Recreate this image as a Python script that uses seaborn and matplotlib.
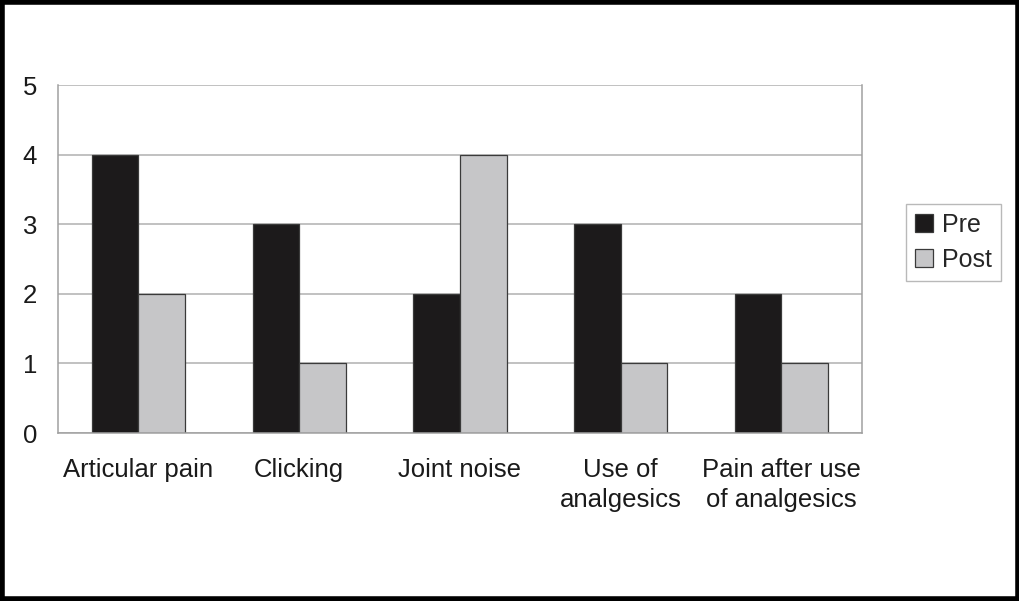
import pandas as pd
import numpy as np
import matplotlib.pyplot as plt
import seaborn as sns
from matplotlib.patches import Rectangle
from matplotlib.ticker import FixedLocator

# =========================
# DATA
# =========================

categories = [
    "Articular pain",
    "Clicking",
    "Joint noise",
    "Use of\nanalgesics",
    "Pain after use\nof analgesics"
]

pre_values = [4, 3, 2, 3, 2]
post_values = [2, 1, 4, 1, 1]

series_names = ["Pre", "Post"]

df = pd.DataFrame({
    "category": categories * 2,
    "value": pre_values + post_values,
    "period": [series_names[0]] * len(categories) + [series_names[1]] * len(categories)
})

# =========================
# STYLE
# =========================

sns.set_style("white")
plt.rcParams["font.family"] = ["Liberation Sans", "DejaVu Sans"]

fig = plt.figure(figsize=(10.2, 6.01), dpi=100)
ax = fig.add_axes([0.0569, 0.2795, 0.788, 0.579])

sns.barplot(
    data=df,
    x="category",
    y="value",
    hue="period",
    order=categories,
    hue_order=series_names,
    palette=["#1c1a1b", "#c6c6c8"],
    width=0.58,
    edgecolor="#3a3a3a",
    linewidth=0.9,
    saturation=1,
    ax=ax
)

# =========================
# AXES
# =========================

ax.set_xlim(-0.5, len(categories) - 0.5)
ax.set_ylim(0, 5)
ax.set_yticks(range(0, 6))
ax.set_xlabel("")
ax.set_ylabel("")

ax.yaxis.grid(True, color="#b0b0b0", linewidth=1.1)
ax.set_axisbelow(True)

for side in ["left", "bottom", "right", "top"]:
    ax.spines[side].set_color("#a0a0a0")
    ax.spines[side].set_linewidth(1.1)
ax.spines["top"].set_visible(False)

ax.tick_params(axis="y", length=5, color="#a0a0a0", labelsize=18.5, pad=10)
ax.tick_params(axis="x", which="major", length=0, labelsize=18.5, pad=18)
ax.xaxis.set_minor_locator(FixedLocator(np.arange(-0.5, len(categories), 1)))
ax.tick_params(axis="x", which="minor", length=6, color="#a0a0a0", direction="out")
for lab in ax.get_xticklabels():
    lab.set_multialignment("center")
    lab.set_linespacing(1.3)
    lab.set_color("#1a1a1a")
for lab in ax.get_yticklabels():
    lab.set_color("#1a1a1a")

# =========================
# LEGEND
# =========================

leg = ax.legend(
    title=None,
    loc="center left",
    bbox_to_anchor=(0.888, 0.597),
    bbox_transform=fig.transFigure,
    fontsize=18,
    frameon=True,
    fancybox=False,
    edgecolor="#a8a8a8",
    handlelength=0.75,
    handleheight=0.75,
    handletextpad=0.35,
    borderpad=0.35,
    borderaxespad=0,
    labelspacing=0.45
)
leg.get_frame().set_linewidth(1.0)

# =========================
# OUTER BORDER
# =========================

fig.patches.append(Rectangle(
    (0.002, 0.003), 0.996, 0.994,
    transform=fig.transFigure,
    fill=False,
    edgecolor="black",
    linewidth=4
))

fig.savefig("out.png", dpi=100, facecolor="white")
